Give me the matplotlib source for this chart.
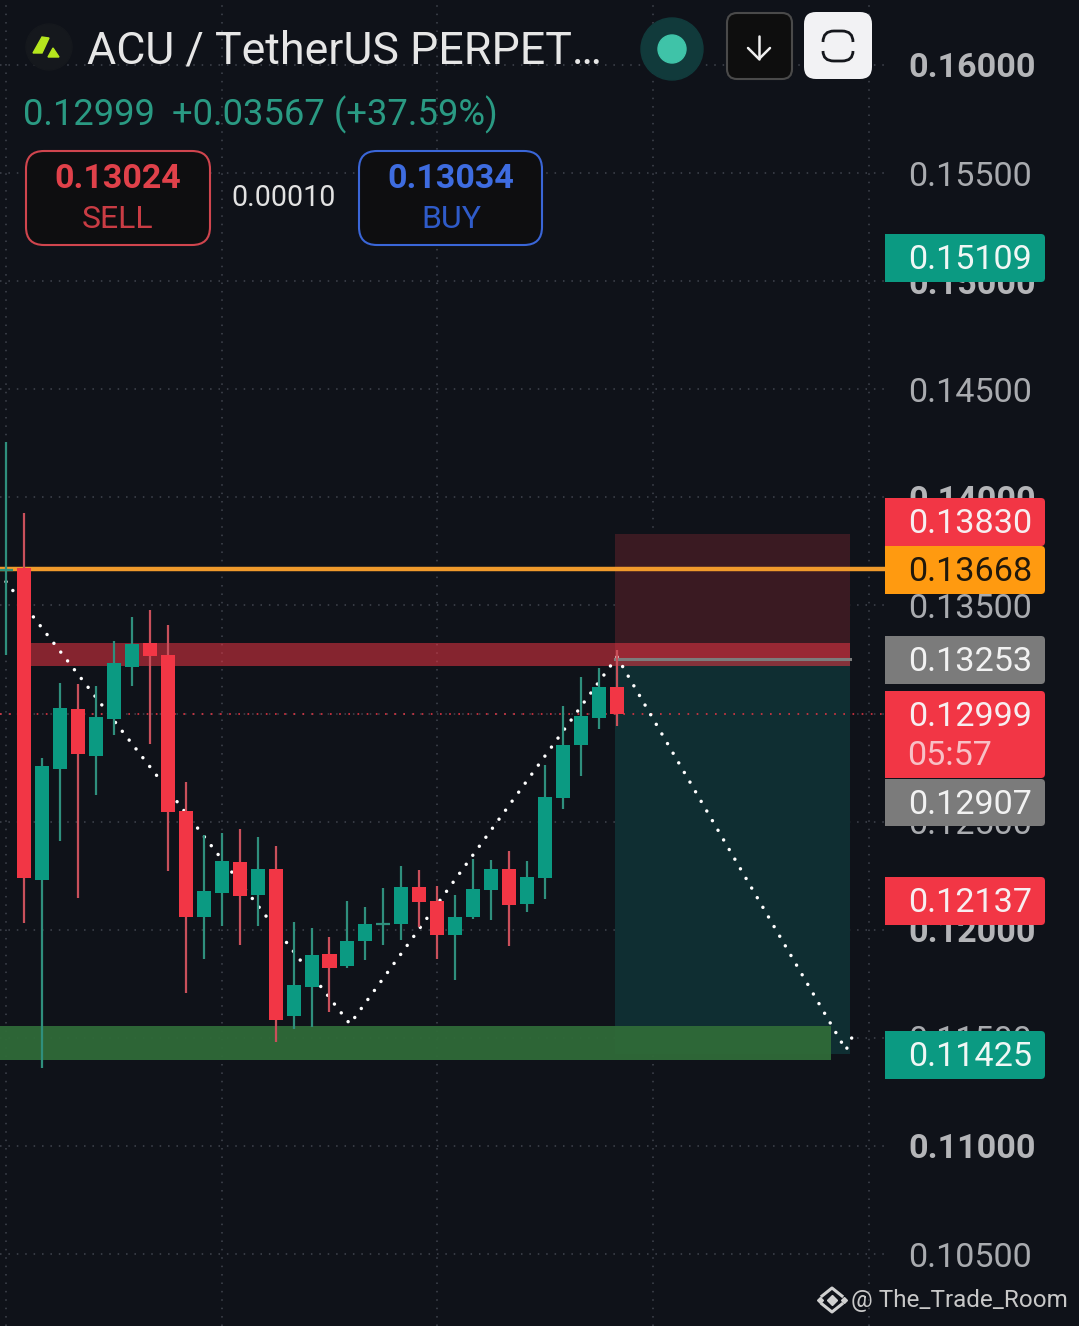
#!/usr/bin/env python

import matplotlib
matplotlib.use('Agg')
import matplotlib.pyplot as plt
from matplotlib.patches import FancyBboxPatch, Circle, Polygon, PathPatch, Rectangle
from matplotlib.path import Path

plt.rcParams['font.family'] = ['Roboto', 'DejaVu Sans']

# candles, oldest first (only the last 35 bars are on screen)
opens = [0.13664, 0.13673, 0.12230, 0.12744, 0.13021, 0.12804, 0.12975, 0.13216, 0.13327, 0.13271,
         0.12550, 0.12059, 0.12170, 0.12314, 0.12161, 0.12281, 0.11601, 0.11736, 0.11888, 0.11833,
         0.11948, 0.12027, 0.12027, 0.12198, 0.12133, 0.11976, 0.12059, 0.12184, 0.12281, 0.12119,
         0.12240, 0.12610, 0.12855, 0.12980, 0.13123]
highs = [0.14256, 0.13928, 0.12795, 0.13142, 0.13137, 0.13128, 0.13336, 0.13447, 0.13479, 0.13410,
         0.12684, 0.12439, 0.12448, 0.12466, 0.12429, 0.12388, 0.12036, 0.12008, 0.11967, 0.12133,
         0.12106, 0.12193, 0.12295, 0.12277, 0.12203, 0.12161, 0.12328, 0.12323, 0.12365, 0.12318,
         0.12762, 0.13035, 0.13169, 0.13211, 0.13294]
lows = [0.13271, 0.12031, 0.11361, 0.12411, 0.12147, 0.12623, 0.12901, 0.13128, 0.12859, 0.12272,
        0.11708, 0.11865, 0.12018, 0.11930, 0.12018, 0.11481, 0.11541, 0.11551, 0.11620, 0.11823,
        0.11860, 0.11930, 0.11953, 0.12013, 0.11865, 0.11768, 0.12050, 0.12045, 0.11925, 0.12082,
        0.12143, 0.12559, 0.12711, 0.12929, 0.12943]
closes = [0.13664, 0.12240, 0.12758, 0.13026, 0.12813, 0.12984, 0.13234, 0.13322, 0.13266, 0.12545,
          0.12059, 0.12180, 0.12318, 0.12156, 0.12281, 0.11583, 0.11745, 0.11884, 0.11823, 0.11948,
          0.12027, 0.12027, 0.12198, 0.12129, 0.11976, 0.12059, 0.12189, 0.12281, 0.12115, 0.12244,
          0.12614, 0.12855, 0.12989, 0.13123, 0.12999]

# price axis
tick_prices = [0.16, 0.155, 0.15, 0.145, 0.14, 0.135, 0.13, 0.125, 0.12, 0.115, 0.11, 0.105]
tick_labels = ['0.16000', '0.15500', '0.15000', '0.14500', '0.14000', '0.13500', '0.13000',
               '0.12500', '0.12000', '0.11500', '0.11000', '0.10500']
bold_labels = ['0.16000', '0.15000', '0.14000', '0.12000', '0.11000']

# drawn levels and zones
stop_price = 0.13830
entry_price = 0.13253
target_price = 0.11425
orange_price = 0.13668
last_price = 0.12999
red_zone = (0.13220, 0.13327)
green_zone = (0.11396, 0.11555)
position_bars = (33.89, 46.97)

# dotted projection path
path_bars = [0, 19.14, 34, 46.74, 47.19]
path_prices = [0.13610, 0.11564, 0.13262, 0.11444, 0.11523]

# price tags on the right, top to bottom
tag_texts = ['0.15109', '0.13830', '0.13668', '0.13253', '0.12999', '0.12907', '0.12137', '0.11425']
tag_colors = ['#0b9a82', '#f23645', '#ff9a10', '#7b7b7b', '#f23645', '#7b7b7b', '#f23645', '#0b9a82']
tag_text_colors = ['#f0f7f5', '#f7eef0', '#20180c', '#f2f2f2', '#f7eef0', '#f2f2f2', '#f7eef0', '#f0f7f5']
tag_tops = [234, 498, 546, 636, 691, 779, 877, 1031]
tag_bottoms = [282, 546, 594, 684, 778, 826, 925, 1079]

BG = '#0f1219'
GREEN = '#0b9a82'
RED = '#f23645'

fig = plt.figure(figsize=(10.79, 13.26), dpi=100, facecolor=BG)

# chart area stops where the price scale starts
ax = fig.add_axes([0, 0, 885 / 1079, 1], facecolor=BG)
ax.set_xlim(-0.334, 48.91)
ax.set_ylim(0.101674, 0.163006)
for s in ax.spines.values():
    s.set_visible(False)

ax.set_yticks(tick_prices)
ax.set_yticklabels(tick_labels)
ax.yaxis.tick_right()
ax.set_xticks([0, 12, 24, 36, 48])
ax.set_xticklabels([])
ax.tick_params(length=0)
ax.tick_params(axis='y', pad=17, labelsize=24.6, labelcolor='#a9abaf')
for lab in ax.get_yticklabels():
    if lab.get_text() in bold_labels:
        lab.set_fontweight('bold')
        lab.set_color('#b4b5b8')
ax.grid(True, color='#41454f', linewidth=1.1, linestyle=(0, (1, 4.5)))
ax.set_axisbelow(True)

# short position box
ax.fill_between(position_bars, entry_price, stop_price, color='#3a1a22', linewidth=0, zorder=1)
ax.fill_between(position_bars, target_price, entry_price, color='#0f2e32', linewidth=0, zorder=1)
ax.plot(position_bars, [entry_price, entry_price], color='#7c7c7c', linewidth=2.2, zorder=1.6)

# zones
ax.fill_between([0.8, position_bars[1]], red_zone[0], red_zone[1], color=RED, alpha=0.52,
                linewidth=0, zorder=1.5)
ax.fill_between([-0.334, 45.9], green_zone[0], green_zone[1], color='#2f6b38', alpha=0.94,
                linewidth=0, zorder=1.5)

ax.axhline(orange_price, color='#f09a2c', linewidth=3.2, zorder=2)
ax.axhline(last_price, color=RED, alpha=0.9, linewidth=1.2, linestyle=(0, (1, 4.5)), zorder=2)

# projection
ax.plot(path_bars, path_prices, color='white', linewidth=2.5, dash_capstyle='round',
        linestyle=(0, (0.01, 3.2)), zorder=3)

# candles
for i in range(len(opens)):
    up = closes[i] >= opens[i]
    body_color = GREEN if up else RED
    wick_color = '#2f8f7d' if up else '#c9505b'
    ax.vlines(i, lows[i], highs[i], color=wick_color, linewidth=1.6, zorder=4)
    height = abs(closes[i] - opens[i])
    if height < 0.00002:
        ax.hlines(opens[i], i - 0.39, i + 0.39, color=wick_color, linewidth=1.6, zorder=4)
    else:
        ax.bar(i, height, bottom=min(opens[i], closes[i]), width=0.78, color=body_color, zorder=5)

# everything else is screen furniture, laid out in pixels
ui = fig.add_axes([0, 0, 1, 1], facecolor='none')
ui.set_xlim(0, 1079)
ui.set_ylim(1326, 0)
ui.axis('off')


def box(x0, y0, x1, y1, r, face, edge='none', lw=0.0):
    p = FancyBboxPatch((x0 + r, y0 + r), x1 - x0 - 2 * r, y1 - y0 - 2 * r,
                       boxstyle='round,pad=%f,rounding_size=%f' % (r, r),
                       facecolor=face, edgecolor=edge, linewidth=lw)
    ui.add_patch(p)


# header
ui.add_patch(Circle((49, 47), 23, color='#15181d'))
ui.add_patch(Polygon([(33, 53), (42, 37), (49, 38), (42, 53)], color='#b5e61d'))
ui.add_patch(Polygon([(48, 57), (53, 48), (59, 57)], color='#b5e61d'))
ui.text(87, 63, 'ACU / TetherUS PERPET…', color='#e6e6e6', fontsize=32.2, va='baseline')
ui.text(23, 125, '0.12999', color='#2a9a83', fontsize=26.2, va='baseline')
ui.text(172, 125, '+0.03567 (+37.59%)', color='#2a9a83', fontsize=26.2, va='baseline')

box(26, 151, 210, 245, 18, '#0e0e10', '#d0454e', 1.5)
ui.text(118, 179, '0.13024', color='#e0414a', fontsize=24.5, fontweight='bold', ha='center', va='center')
ui.text(118, 219, 'SELL', color='#c93c44', fontsize=23, ha='center', va='center')
ui.text(284, 198, '0.00010', color='#e2e2e2', fontsize=20.6, ha='center', va='center')
box(359, 151, 542, 245, 18, '#0e0e10', '#3a66d8', 1.5)
ui.text(451, 179, '0.13034', color='#3e6ce0', fontsize=24.5, fontweight='bold', ha='center', va='center')
ui.text(451, 219, 'BUY', color='#2f5bc9', fontsize=23, ha='center', va='center')

# status dot and buttons
ui.add_patch(Circle((672, 49), 31, color='#113a3b'))
ui.add_patch(Circle((672, 49), 14, color='#3fc3a8'))
box(727, 13, 792, 79, 10, '#0e0e0e', '#4a4a4a', 1.5)
ui.plot([759, 759], [36, 59], color='#f0f0f0', linewidth=1.8, solid_capstyle='round')
ui.plot([748, 759, 770], [48, 59, 48], color='#f0f0f0', linewidth=1.8, solid_capstyle='round')
box(804, 12, 872, 79, 12, '#f2f2f4')
for verts in ([(823, 42), (823, 31), (834, 31), (842, 31), (853, 31), (853, 42)],
              [(823, 51), (823, 61), (834, 61), (842, 61), (853, 61), (853, 51)]):
    codes = [Path.MOVETO, Path.CURVE3, Path.CURVE3, Path.LINETO, Path.CURVE3, Path.CURVE3]
    ui.add_patch(PathPatch(Path(verts, codes), facecolor='none', edgecolor='#15171c', linewidth=2.0))

# price tags
for i in range(len(tag_texts)):
    ui.add_patch(Rectangle((885, tag_tops[i]), 10, tag_bottoms[i] - tag_tops[i], color=tag_colors[i], linewidth=0))
    box(888, tag_tops[i], 1045, tag_bottoms[i], 4, tag_colors[i])
    if tag_texts[i] == '0.12999':
        ui.text(970, tag_tops[i] + 26, tag_texts[i], color=tag_text_colors[i], fontsize=24.6, ha='center', va='center')
        ui.text(950, tag_tops[i] + 65, '05:57', color='#f8c0c6', fontsize=24.6, ha='center', va='center')
    else:
        ui.text(970, (tag_tops[i] + tag_bottoms[i]) / 2 + 2, tag_texts[i], color=tag_text_colors[i],
                fontsize=24.6, ha='center', va='center')

# watermark
ui.plot([822, 832, 842], [1296, 1288, 1296], color='#d0d0d0', linewidth=2.2)
ui.plot([822, 832, 842], [1304, 1312, 1304], color='#d0d0d0', linewidth=2.2)
ui.plot([820, 844, 832], [1300, 1300, 1300], color='#d0d0d0', linestyle='none', marker='D', markersize=3)
ui.plot([832], [1300], color='#d0d0d0', linestyle='none', marker='D', markersize=5)
ui.text(851, 1301, '@ The_Trade_Room', color='#c8c8c8', fontsize=17.5, va='center')

fig.savefig('out.png', dpi=100, facecolor=BG)
